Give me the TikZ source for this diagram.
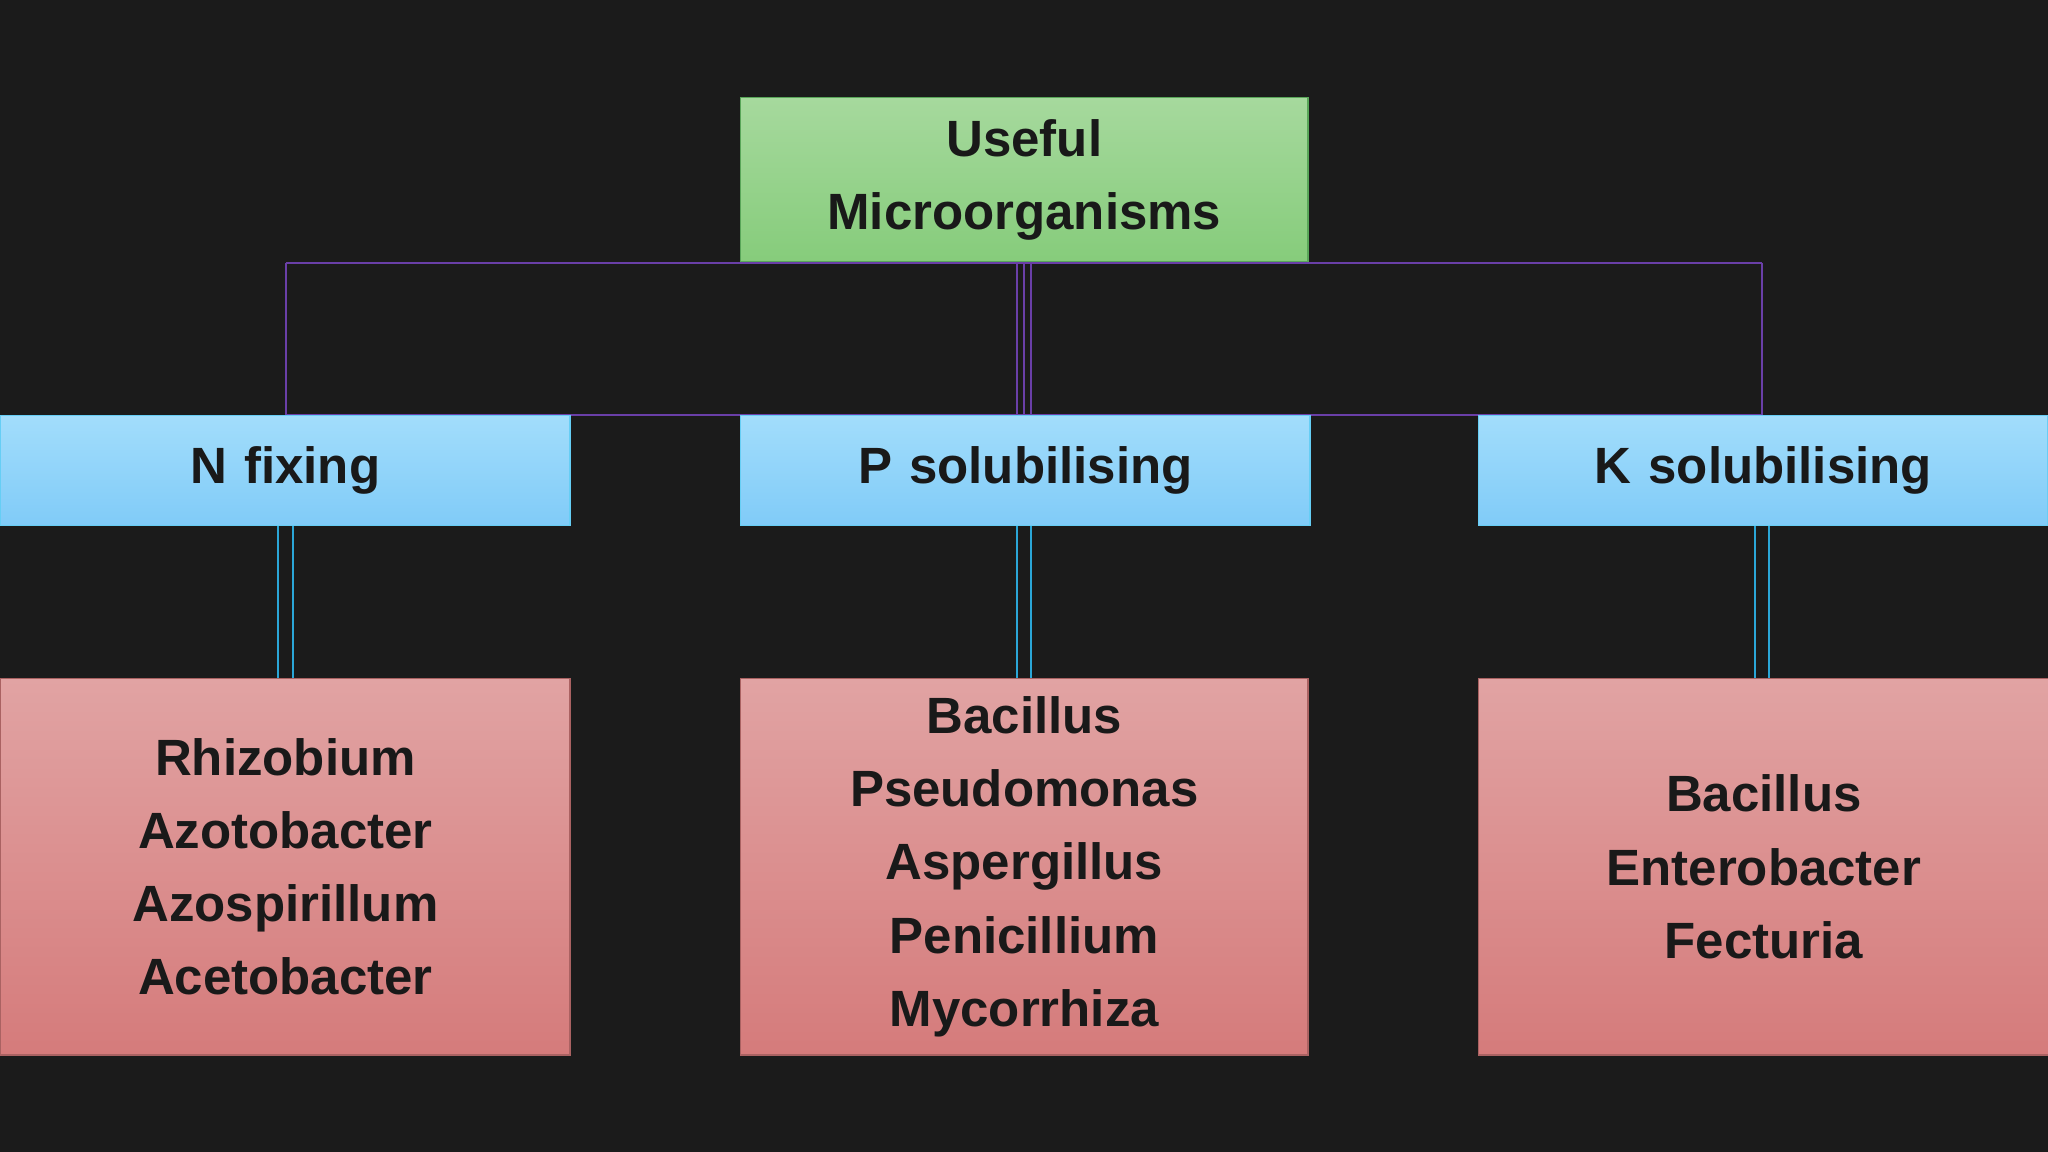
\documentclass[tikz,border=0pt]{standalone}
\usepackage{fontspec}
\setmainfont{Liberation Sans}
\begin{document}
\begin{tikzpicture}[x=0.01cm,y=-0.01cm,
  box/.style={anchor=north west,inner sep=0pt,align=center,font=\bfseries\fontsize{14.5}{20.8}\selectfont,text=black!90},
  topbox/.style={box,draw=green!50!black!40,top color=green!30!white!70!lime!60!gray,bottom color=green!45!white!80!gray},
  pur/.style={draw=violet!70!blue!80,line width=0.8pt},
  cy/.style={draw=cyan!80!blue,line width=0.8pt}]
\definecolor{gtop}{HTML}{A6D99D}\definecolor{gbot}{HTML}{86CC7B}
\definecolor{btop}{HTML}{A2DDFB}\definecolor{bbot}{HTML}{80CBF8}
\definecolor{rtop}{HTML}{E1A3A3}\definecolor{rbot}{HTML}{D57B7B}
\definecolor{bgc}{HTML}{1B1B1B}\definecolor{pl}{HTML}{6A3FA8}\definecolor{cl}{HTML}{2BA7D8}
\fill[bgc] (0,0) rectangle (2048,1152);
\useasboundingbox (0,0) rectangle (2048,1152);
% connectors
\coordinate (h1) at (286,263); \coordinate (h2) at (1762,263);
\coordinate (l1) at (286,415); \coordinate (l2) at (1762,415);
\draw[pl,line width=0.8pt] (h1) -- (h2) (h1) -- (l1) (h2) -- (l2) (l1) -- (l2);
\foreach \x in {1017,1024,1031} \draw[pl,line width=0.8pt] (\x,263) -- (\x,415);
\foreach \x in {278,293,1017,1031,1755,1769} \draw[cl,line width=0.8pt] (\x,525) -- (\x,678);
% boxes
\node[box,draw=green!30!gray,top color=gtop,bottom color=gbot,minimum width=567\pgflinewidth*0+16cm/2.8219,minimum height=1.64cm,text width=5.67cm] (top) at (740,97) {Useful\\Microorganisms};
\foreach \n/\x/\t in {n/0/N fixing,p/740/P solubilising,k/1478/K solubilising}
  \node[box,draw=cyan!60,top color=btop,bottom color=bbot,minimum width=5.69cm,minimum height=1.1cm,text width=5.69cm] (\n) at (\x,415) {\t};
\node[box,draw=rbot!80!black,top color=rtop,bottom color=rbot,minimum width=5.69cm,minimum height=3.76cm,text width=5.69cm] (nb) at (0,678) {Rhizobium\\Azotobacter\\Azospirillum\\Acetobacter};
\node[box,draw=rbot!80!black,top color=rtop,bottom color=rbot,minimum width=5.67cm,minimum height=3.76cm,text width=5.67cm] (pb) at (740,678) {Bacillus\\Pseudomonas\\Aspergillus\\Penicillium\\Mycorrhiza};
\node[box,draw=rbot!80!black,top color=rtop,bottom color=rbot,minimum width=5.70cm,minimum height=3.76cm,text width=5.70cm] (kb) at (1478,678) {Bacillus\\Enterobacter\\Fecturia};
\end{tikzpicture}
\end{document}
